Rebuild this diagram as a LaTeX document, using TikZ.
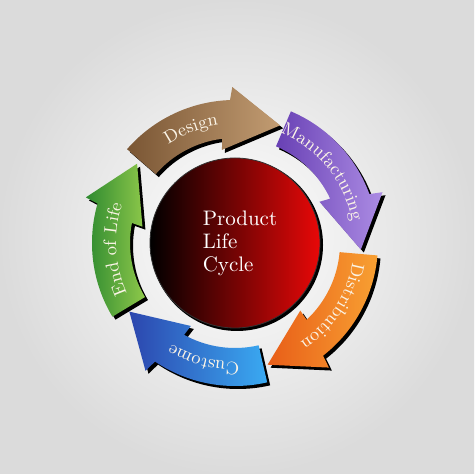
\documentclass[tikz,border=0pt]{standalone}
\usepackage{tikz}
\usetikzlibrary{decorations.text}

\definecolor{designdark}{HTML}{7A5634}
\definecolor{designlight}{HTML}{C29C72}
\definecolor{manudark}{HTML}{6840B4}
\definecolor{manulight}{HTML}{AC8CE4}
\definecolor{distdark}{HTML}{E85E18}
\definecolor{distlight}{HTML}{F8A032}
\definecolor{custdark}{HTML}{2C46AE}
\definecolor{custlight}{HTML}{3AAAF2}
\definecolor{eoldark}{HTML}{2E8A30}
\definecolor{eollight}{HTML}{8EC84A}
\definecolor{hubred}{HTML}{E80808}
\definecolor{labeltext}{HTML}{FBF4E6}

\begin{document}
\begin{tikzpicture}[x=0.5pt, y=0.5pt]
\tikzstyle{hub} = [circle, minimum size=85pt, inner sep=0pt, left color=black, right color=hubred, draw=black!80, line width=0.4pt]
\tikzstyle{title} = [align=left, text=white, font=\fontsize{10.5}{11.5}\selectfont]

% one arrow of the ring: tail angle, left colour, right colour, label
\def\cyclearrow#1#2#3#4{
\fill[black, shift={(3,-3)}] (#1:143) arc[start angle=#1, end angle=#1-47, radius=143] -- ({#1-48}:156) -- ({#1-70}:126) -- ({#1-41}:94) -- ({#1-42}:105) arc[start angle=#1-42, end angle=#1, radius=105] -- cycle;
\shade[left color=#2, right color=#3] (#1:143) arc[start angle=#1, end angle=#1-47, radius=143] -- ({#1-48}:156) -- ({#1-70}:126) -- ({#1-41}:94) -- ({#1-42}:105) arc[start angle=#1-42, end angle=#1, radius=105] -- cycle;
\path[decorate, decoration={text along path, text align=center, text color=labeltext, text={|\small|#4}}] ({#1+10}:119) arc[start angle=#1+10, end angle=#1-66, radius=119];
}

    \useasboundingbox (-235,-231) rectangle (239,243);
    \shade[inner color=white, outer color=black!14] (-235,-231) rectangle (239,243);

    % the ring
    \cyclearrow{139}{designdark}{designlight}{Design}
    \cyclearrow{67}{manudark}{manulight}{Manufacturing}
    \cyclearrow{-5}{distdark}{distlight}{Distribution}
    \cyclearrow{-77}{custdark}{custlight}{Custome}
    \cyclearrow{-149}{eoldark}{eollight}{End of Life}

    % the hub
    \fill[black] (2,-2) circle[radius=86];
    \node[hub] (plc) at (0,0) {};
    \node[title] (name) at ([xshift=2.5pt]plc.center) {Product\\Life\\Cycle};

\end{tikzpicture}
\end{document}
